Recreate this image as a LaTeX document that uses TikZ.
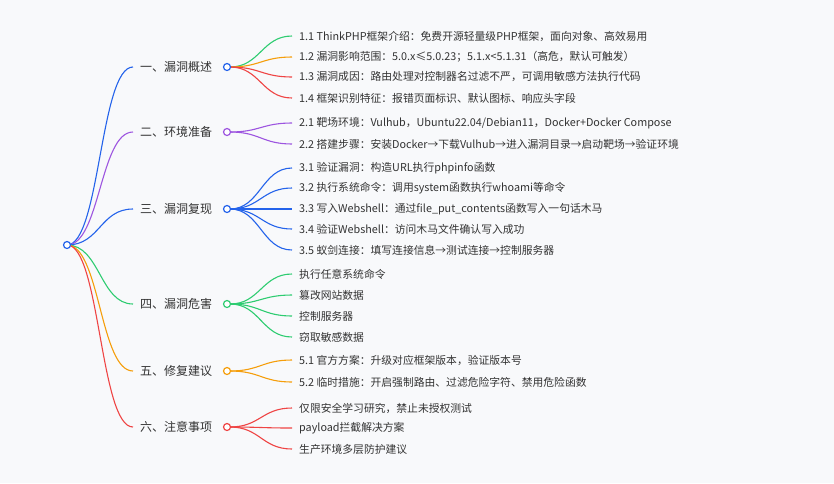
\documentclass[tikz,border=0pt]{standalone}
\usepackage{fontspec}
\setmainfont{Noto Sans CJK SC}
\begin{document}
\begin{tikzpicture}[x=1pt,y=-1pt,
  lbl/.style={anchor=west,inner sep=0pt,font=\fontsize{10.8}{12}\selectfont,text=black!80},
  lbla/.style={lbl,font=\fontsize{12}{13}\selectfont},
  dot/.style={circle,draw=#1,fill=white,line width=1.2pt,inner sep=0pt,minimum size=7pt},
  br/.style={draw=#1,line width=1.1pt}]
\definecolor{cb}{HTML}{2463EB}\definecolor{cp}{HTML}{9D55E0}\definecolor{cg}{HTML}{2ECC71}
\definecolor{co}{HTML}{F59E0B}\definecolor{cr}{HTML}{EF4444}\definecolor{bg}{HTML}{F8F9FB}
\fill[bg] (0,0) rectangle (834,483);
\useasboundingbox (0,0) rectangle (834,483);
\coordinate (root) at (67,245);
% level 1
\foreach \n/\y/\c/\t in {a/67/cb/一、漏洞概述, b/132/cp/二、环境准备, c/209/cb/三、漏洞复现, d/304/cg/四、漏洞危害, e/371/co/五、修复建议, f/427/cr/六、注意事项}{
  \node[lbla] (\n) at (140,\y) {\t};
  \coordinate (\n s) at (133,\y);
  \draw[br=\c] (root) .. controls (100,245) and (100,\y) .. (\n s);
  \coordinate (\n d) at (227,\y);
}
% level 2
\foreach \p/\y/\c/\t in {
 a/36/cg/{1.1 ThinkPHP框架介绍：免费开源轻量级PHP框架，面向对象、高效易用},
 a/57/co/{1.2 漏洞影响范围：5.0.x≤5.0.23；5.1.x<5.1.31（高危，默认可触发）},
 a/77/cr/{1.3 漏洞成因：路由处理对控制器名过滤不严，可调用敏感方法执行代码},
 a/98/cr/{1.4 框架识别特征：报错页面标识、默认图标、响应头字段},
 b/123/cp/{2.1 靶场环境：Vulhub，Ubuntu22.04/Debian11，Docker+Docker Compose},
 b/144/cp/{2.2 搭建步骤：安装Docker→下载Vulhub→进入漏洞目录→启动靶场→验证环境},
 c/168/cb/{3.1 验证漏洞：构造URL执行phpinfo函数},
 c/188/cb/{3.2 执行系统命令：调用system函数执行whoami等命令},
 c/209/cb/{3.3 写入Webshell：通过file\_put\_contents函数写入一句话木马},
 c/229/cb/{3.4 验证Webshell：访问木马文件确认写入成功},
 c/250/cb/{3.5 蚁剑连接：填写连接信息→测试连接→控制服务器},
 d/274/cg/{执行任意系统命令},
 d/295/cg/{篡改网站数据},
 d/316/cg/{控制服务器},
 d/337/cg/{窃取敏感数据},
 e/360/co/{5.1 官方方案：升级对应框架版本，验证版本号},
 e/382/co/{5.2 临时措施：开启强制路由、过滤危险字符、禁用危险函数},
 f/408/cr/{仅限安全学习研究，禁止未授权测试},
 f/428/cr/{payload拦截解决方案},
 f/449/cr/{生产环境多层防护建议}}{
  \node[lbl] at (299,\y) {\t};
  \path (\p d) ++(3,0) coordinate (q);
  \draw[br=\c] (q) .. controls ++(30,0) and (262,\y) .. (292,\y);
}
\foreach \n/\c in {a/cb,b/cp,c/cb,d/cg,e/co,f/cr}{\node[dot=\c] at (\n d) {};}
\node[dot=cb] at (root) {};
\end{tikzpicture}
\end{document}
